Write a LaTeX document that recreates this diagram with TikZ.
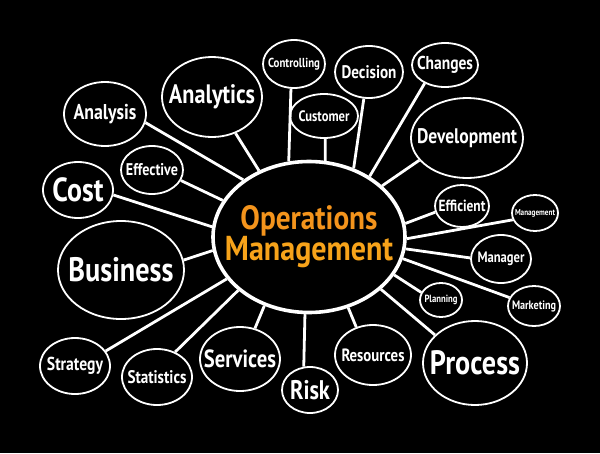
\documentclass[tikz,border=0pt]{standalone}
\usepackage{fontspec}
\setmainfont{PT Sans}
\usetikzlibrary{shapes.geometric}
\definecolor{opsA}{RGB}{244,148,28}
\definecolor{opsB}{RGB}{247,163,26}
\newcommand{\fw}[2]{\makebox[0pt]{\scalebox{1}[1.2]{\resizebox{#1pt}{!}{\bfseries #2}}}}
\tikzset{
  bubble/.style={ellipse, draw=white, line width=1.8pt, inner sep=0pt, text=white},
  hub/.style={ellipse, draw=white, line width=3.6pt, inner sep=0pt},
  link/.style={draw=white, line width=2.8pt},
}
\begin{document}
\begin{tikzpicture}[x=1pt,y=-1pt]
\fill[black] (0,0) rectangle (600,453);
\useasboundingbox (0,0) rectangle (600,453);
% hub
\node[hub, minimum width=192pt, minimum height=151pt] (ops) at (309,237)
  {\makebox[0pt]{\begin{tabular}{@{}c@{}}\color{opsA}\scalebox{1}[1.15]{\resizebox{137pt}{!}{\bfseries Operations}}\\[3pt]\color{opsB}\scalebox{1}[1.15]{\resizebox{168pt}{!}{\bfseries Management}}\end{tabular}}};
% satellites
\node[bubble, minimum width=82pt, minimum height=64pt] (analysis) at (105,114) {\fw{63}{Analysis}};
\node[bubble, minimum width=100pt, minimum height=80pt] (analytics) at (212,97) {\fw{86}{Analytics}};
\node[bubble, minimum width=62pt, minimum height=48pt] (effective) at (152,170) {\fw{52}{Effective}};
\node[bubble, minimum width=70pt, minimum height=56pt] (cost) at (78,190) {\fw{51}{Cost}};
\node[bubble, minimum width=62pt, minimum height=48pt] (controlling) at (294,64) {\fw{52}{Controlling}};
\node[bubble, minimum width=68pt, minimum height=52pt] (decision) at (369,72) {\fw{55}{Decision}};
\node[bubble, minimum width=66pt, minimum height=44pt] (changes) at (445,65) {\fw{56}{Changes}};
\node[bubble, minimum width=68pt, minimum height=44pt] (customer) at (324,116) {\fw{51}{Customer}};
\node[bubble, minimum width=112pt, minimum height=80pt] (development) at (467,138) {\fw{100}{Development}};
\node[bubble, minimum width=54pt, minimum height=42pt] (efficient) at (462,206) {\fw{47}{Efficient}};
\node[bubble, minimum width=46pt, minimum height=36pt] (managementS) at (535,213) {\fw{40}{Management}};
\node[bubble, minimum width=60pt, minimum height=48pt] (manager) at (501,259) {\fw{47}{Manager}};
\node[bubble, minimum width=52pt, minimum height=40pt] (marketing) at (534,306) {\fw{44}{Marketing}};
\node[bubble, minimum width=42pt, minimum height=34pt] (planning) at (441,300) {\fw{33}{Planning}};
\node[bubble, minimum width=104pt, minimum height=84pt] (process) at (475,363) {\fw{90}{Process}};
\node[bubble, minimum width=76pt, minimum height=60pt] (resources) at (373,355) {\fw{63}{Resources}};
\node[bubble, minimum width=56pt, minimum height=46pt] (risk) at (310,390) {\fw{40}{Risk}};
\node[bubble, minimum width=80pt, minimum height=64pt] (services) at (240,359) {\fw{72}{Services}};
\node[bubble, minimum width=70pt, minimum height=56pt] (statistics) at (157,377) {\fw{59}{Statistics}};
\node[bubble, minimum width=70pt, minimum height=56pt] (strategy) at (75,366) {\fw{56}{Strategy}};
\node[bubble, minimum width=126pt, minimum height=98pt] (business) at (121,270) {\fw{105}{Business}};
% connectors
\draw[link] (analysis.-12.4) -- (ops.139.6);
\draw[link] (analytics.-57.4) -- (ops.127.3);
\draw[link] (effective.-20.8) -- (ops.157.4);
\draw[link] (cost.-8.4) -- (ops.174.6);
\draw[link] (controlling.-97) -- (ops.105);
\draw[link] (customer.-87) -- (ops.78.7);
\draw[link] (decision.-101) -- (ops.57.4);
\draw[link] (changes.222.3) -- (ops.45.9);
\draw[link] (development.205.6) -- (ops.35.4);
\draw[link] (efficient.193) -- (ops.8.9);
\draw[link] (managementS.197) -- (ops.-1.8);
\draw[link] (manager.178) -- (ops.-7.8);
\draw[link] (marketing.161.6) -- (ops.-13.9);
\draw[link] (planning.159.8) -- (ops.-24.9);
\draw[link] (process.145) -- (ops.-36);
\draw[link] (resources.121.3) -- (ops.-61.8);
\draw[link] (risk.105) -- (ops.-93.8);
\draw[link] (services.64.2) -- (ops.237.2);
\draw[link] (statistics.54.2) -- (ops.217.1);
\draw[link] (strategy.26.6) -- (ops.207.9);
\draw[link] (business.9) -- (ops.188.8);
\end{tikzpicture}
\end{document}
